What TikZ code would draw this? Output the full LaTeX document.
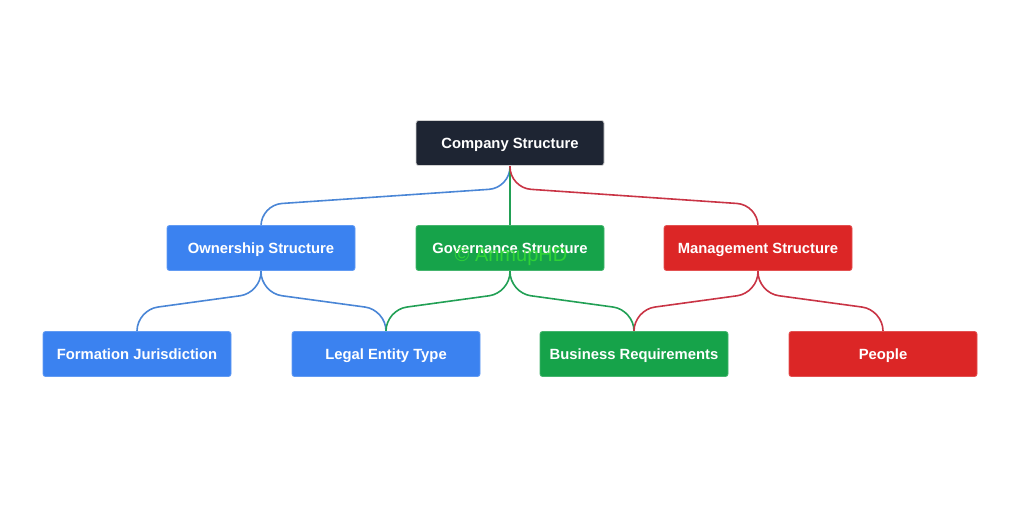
\documentclass[tikz,border=0pt]{standalone}
\usepackage{fontspec}
\setmainfont{Liberation Sans}
\usetikzlibrary{backgrounds,calc}
\definecolor{navy}{HTML}{1E2533}
\definecolor{bluebox}{HTML}{3B82F0}
\definecolor{greenbox}{HTML}{16A34A}
\definecolor{redbox}{HTML}{DC2626}
\definecolor{blueline}{HTML}{4A86D6}
\definecolor{greenline}{HTML}{22A055}
\definecolor{redline}{HTML}{C93445}
\definecolor{wmark}{HTML}{33DD33}
\tikzset{
  box/.style={rectangle, rounded corners=2.5pt, minimum width=188pt, minimum height=45pt,
    inner sep=0pt, text=white, font=\fontsize{14.8}{17}\selectfont\bfseries, line width=0.8pt,
    text height=11.5pt, text depth=0pt},
  rootbox/.style={box, fill=navy, draw=gray!35},
  bbox/.style={box, fill=bluebox, draw=bluebox!80!white},
  gbox/.style={box, fill=greenbox, draw=greenbox!80!white},
  rbox/.style={box, fill=redbox, draw=redbox!80!white},
  link/.style={line width=1.6pt, rounded corners=21pt},
  watermark/.style={text=wmark, opacity=0.85, font=\fontsize{20}{22}\selectfont, inner sep=0pt}
}
\newcommand{\branch}[3]{%
  \path (#2.south) coordinate (bp) (#3.north) coordinate (bc);
  \draw[link,#1] (bp) -- ($(bp)+(0,22)$) -- (bc |- {$(bp)+(0,39)$}) -- (bc);
}
\begin{document}
\begin{tikzpicture}[x=1pt,y=-1pt]
\useasboundingbox (0,0) rectangle (1024,520);
\node[rootbox] (root) at (510,143) {Company Structure};
\node[bbox] (own) at (261,248) {Ownership Structure};
\node[gbox] (gov) at (510,248) {Governance Structure};
\node[rbox] (man) at (758,248) {Management Structure};
\node[bbox] (form) at (137,354) {Formation Jurisdiction};
\node[bbox] (legal) at (386,354) {Legal Entity Type};
\node[gbox] (bus) at (634,354) {Business Requirements};
\node[rbox] (people) at (883,354) {People};
\node[watermark] (wm) at (511,257) {© AnmupHD};
\begin{scope}[on background layer]
\branch{blueline}{root}{own}
\draw[link,greenline] (root.south) -- (gov.north);
\branch{redline}{root}{man}
\branch{blueline}{own}{form}
\branch{blueline}{own}{legal}
\branch{greenline}{gov}{legal}
\branch{greenline}{gov}{bus}
\branch{redline}{man}{bus}
\branch{redline}{man}{people}
\end{scope}
\end{tikzpicture}
\end{document}
